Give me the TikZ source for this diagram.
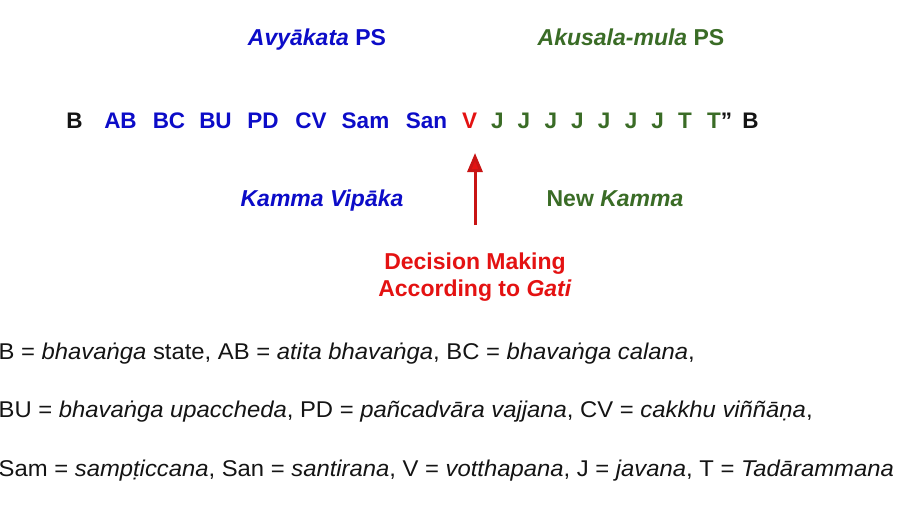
\documentclass[tikz,border=0pt]{standalone}
\usepackage{fontspec}
\setmainfont{Liberation Sans}
\newfontfamily\legendfont[FakeStretch=1.045]{Liberation Sans}
\usetikzlibrary{arrows.meta}
\definecolor{tblue}{RGB}{12,12,200}
\definecolor{tgreen}{RGB}{58,108,38}
\definecolor{tred}{RGB}{228,18,18}
\definecolor{tdred}{RGB}{200,20,20}
\definecolor{tblack}{RGB}{20,20,20}
\tikzset{
  lbl/.style={anchor=base, inner sep=0pt, font=\fontsize{23}{27}\selectfont\bfseries},
  seq/.style={anchor=base, inner sep=0pt, font=\fontsize{22.5}{27}\selectfont\bfseries},
  legend/.style={anchor=base west, inner sep=0pt, text=tblack, font=\legendfont\fontsize{22.8}{26}\selectfont},
  redarrow/.style={draw=tdred, line width=3pt, -{Triangle[length=19pt,width=15pt,fill=tred]}}
}
\begin{document}
\begin{tikzpicture}[x=1pt,y=-1pt]
\useasboundingbox (0,0) rectangle (897,519);
\fill[white] (0,0) rectangle (897,519);
% top labels
\node[lbl, text=tblue] (avy) at (317,46) {\textit{Avyākata} PS};
\node[lbl, text=tgreen] (aku) at (631,46) {\textit{Akusala-mula} PS};
% sequence
\node[seq, text=tblack] (b1) at (74.5,128) {B};
\node[seq, text=tblue] (ab) at (120.5,128) {AB};
\node[seq, text=tblue] (bc) at (169,128) {BC};
\node[seq, text=tblue] (bu) at (215.5,128) {BU};
\node[seq, text=tblue] (pd) at (263,128) {PD};
\node[seq, text=tblue] (cv) at (311,128) {CV};
\node[seq, text=tblue] (sam) at (365.5,128) {Sam};
\node[seq, text=tblue] (san) at (426.5,128) {San};
\node[seq, text=tred] (v) at (469.5,128) {V};
\node[seq, text=tgreen] (j1) at (497.5,128) {J};
\node[seq, text=tgreen] (j2) at (524,128) {J};
\node[seq, text=tgreen] (j3) at (551,128) {J};
\node[seq, text=tgreen] (j4) at (577.5,128) {J};
\node[seq, text=tgreen] (j5) at (604,128) {J};
\node[seq, text=tgreen] (j6) at (631,128) {J};
\node[seq, text=tgreen] (j7) at (657.5,128) {J};
\node[seq, text=tgreen] (t1) at (685,128) {T};
\node[seq, text=tgreen, anchor=base west] (t2) at (707,128) {T\textcolor{tblack}{”}};
\node[seq, text=tblack] (b2) at (750.5,128) {B};
% middle labels
\node[lbl, text=tblue] (kv) at (322,206) {\textit{Kamma Vipāka}};
\node[lbl, text=tgreen] (nk) at (615,206) {New \textit{Kamma}};
% decision
\node[lbl, text=tred] (dm1) at (475,269) {Decision Making};
\node[lbl, text=tred] (dm2) at (475,296) {According to \textit{Gati}};
\coordinate (foot) at (475,225);
\coordinate (tip) at (475,153);
\draw[redarrow] (foot) -- (tip);
% legend
\node[legend] (l1) at (-1.5,359) {B = \textit{bhavaṅga} state, AB = \textit{atita bhavaṅga}, BC = \textit{bhavaṅga calana},};
\node[legend] (l2) at (-1.5,417) {BU = \textit{bhavaṅga upaccheda}, PD = \textit{pañcadvāra vajjana}, CV = \textit{cakkhu viññāṇa},};
\node[legend] (l3) at (-1.5,476) {Sam = \textit{sampṭiccana}, San = \textit{santirana}, V = \textit{votthapana}, J = \textit{javana}, T = \textit{Tadārammana}};
\end{tikzpicture}
\end{document}
